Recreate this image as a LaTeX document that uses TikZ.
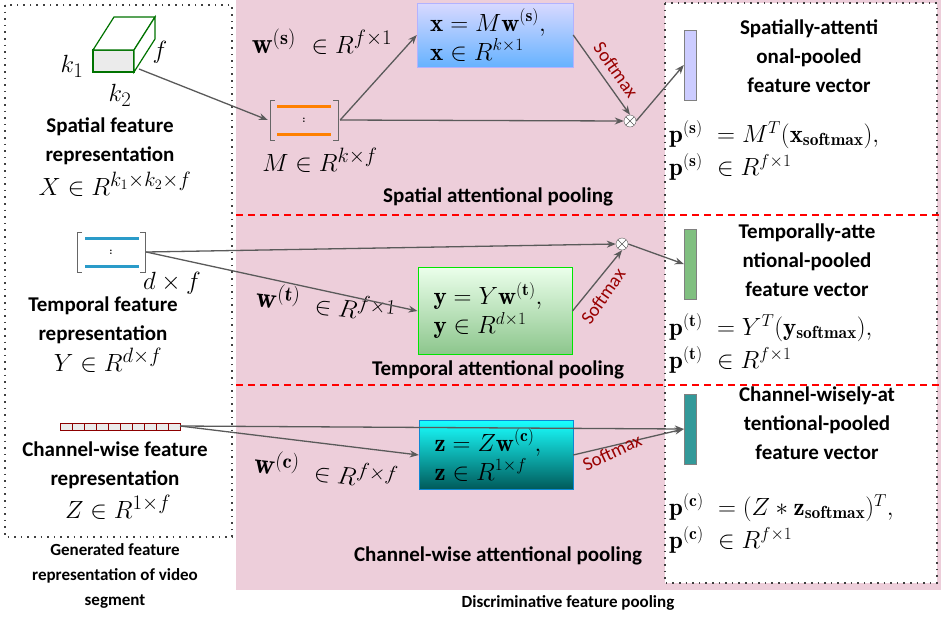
\documentclass[tikz,border=0pt]{standalone}
\usepackage{fontspec}
\usepackage{amsmath}
\newfontfamily\carl{Carlito}
\usetikzlibrary{arrows.meta}
\definecolor{pinkbg}{RGB}{237,206,218}
\definecolor{arr}{RGB}{90,90,90}
\begin{document}
\begin{tikzpicture}[x=1pt,y=-1pt,
 lbl/.style={font=\carl\bfseries\fontsize{21}{29}\selectfont,align=center},
 mth/.style={font=\fontsize{29}{31}\selectfont,align=left,inner sep=1pt},
 con/.style={draw=arr,line width=1.3pt,-{Stealth[length=9pt,width=7pt]}},
 sm/.style={font=\carl\fontsize{19}{20}\selectfont,text=red!60!black},
 dot/.style={draw=black!75,line width=1.6pt,dash pattern=on 1.6pt off 5pt},
 brk/.style={draw=black!60,line width=1pt},
 otim/.style={circle,draw=arr,fill=white,inner sep=0pt,minimum size=12pt,
   path picture={\draw[arr,line width=0.6pt] (path picture bounding box.north west)--(path picture bounding box.south east) (path picture bounding box.north east)--(path picture bounding box.south west);}}]
\useasboundingbox (0,0) rectangle (941,616);
\fill[pinkbg] (236,0) rectangle (941,590);
\fill[white] (665,3) rectangle (937,583);
\draw[dot] (5,5) rectangle (232,537);
\draw[dot] (665,3) rectangle (937,583);
\draw[red,line width=1.2pt,dash pattern=on 7pt off 5pt] (236,215)--(941,215) (236,385)--(941,385);
% cube
\draw[green!45!black,line width=1.2pt,fill=black!8] (93,50) rectangle (134,72);
\draw[green!45!black,line width=1.2pt,fill=white] (93,50)--(114,17)--(155,17)--(134,50)--cycle;
\draw[green!45!black,line width=1.2pt,fill=white] (134,50)--(155,17)--(155,39)--(134,72)--cycle;
\node[mth] at (72,66) {$k_1$};
\node[mth] at (120,95) {$k_2$};
\node[mth] at (160,52) {$f$};
\coordinate (cube) at (139,69);
\node[lbl] (sp) at (110,141) {Spatial feature\\representation};
\node[mth] (X) at (115,184) {$X\in R^{k_1\times k_2\times f}$};
% M bracket
\node[minimum width=72pt,minimum height=40pt] (M) at (304,120) {};
\draw[brk] (275,100)--(270,100)--(270,140)--(275,140) (333,100)--(338,100)--(338,140)--(333,140);
\draw[orange,line width=3pt] (277,106)--(331,106) (277,134)--(331,134);
\node[font=\bfseries] at (304,120) {:};
\node[mth] (Mlab) at (320,160) {$M\in R^{k\times f}$};
\node[mth] (ws) at (322,42) {$\mathbf{w^{(s)}}\ \in R^{f\times 1}$};
% blue box
\node[draw=blue!30,top color=blue!15,bottom color=blue!50!cyan!60,minimum width=156pt,minimum height=64pt] (bx) at (495,35) {};
\node[mth,font=\fontsize{25}{29}\selectfont] at (488,35) {$\mathbf{x}=M\mathbf{w^{(s)}},$\\$\mathbf{x}\in R^{k\times 1}$};
\node[otim] (o1) at (630,121) {};
\node[lbl] at (498,197) {Spatial attentional pooling};
% temporal
\node[minimum width=70pt,minimum height=40pt] (T) at (111,252) {};
\draw[brk] (82,232)--(77,232)--(77,272)--(82,272) (140,232)--(145,232)--(145,272)--(140,272);
\draw[cyan!60!teal,line width=3pt] (85,238)--(139,238) (85,266)--(139,266);
\node[font=\bfseries] at (111,252) {:};
\node[mth] at (172,283) {$d\times f$};
\node[lbl] at (103,320) {Temporal feature\\representation};
\node[mth] at (108,360) {$Y\in R^{d\times f}$};
\node[mth,rotate=-7] at (326,303) {$\mathbf{w^{(t)}}\ \in R^{f\times 1}$};
\node[draw=green!90!black,line width=1pt,top color=green!8!white,bottom color=green!50!black!45,minimum width=154pt,minimum height=87pt] (gx) at (495,311) {};
\node[mth,font=\fontsize{25}{29}\selectfont] at (488,311) {$\mathbf{y}=Y\mathbf{w^{(t)}},$\\$\mathbf{y}\in R^{d\times 1}$};
\node[otim] (o2) at (622,244) {};
\node[lbl] at (498,370) {Temporal attentional pooling};
% channel
\foreach \i in {0,...,9} \draw[red!55!black,fill=black!8,line width=0.8pt] (60+\i*12,423) rectangle (72+\i*12,430);
\coordinate (ch) at (180,426);
\node[lbl] at (115,465) {Channel-wise feature\\representation};
\node[mth] at (118,507) {$Z\in R^{1\times f}$};
\node[mth,rotate=-7] at (326,470) {$\mathbf{w^{(c)}}\ \in R^{f\times f}$};
\node[draw=cyan!70!blue,top color=cyan!90!white,bottom color=teal!70!black,minimum width=154pt,minimum height=69pt] (tx) at (496,455) {};
\node[mth,font=\fontsize{25}{29}\selectfont] at (488,455) {$\mathbf{z}=Z\mathbf{w^{(c)}},$\\$\mathbf{z}\in R^{1\times f}$};
\node[lbl] at (498,556) {Channel-wise attentional pooling};
\node[lbl,font=\carl\bfseries\fontsize{17}{25}\selectfont] at (115,576) {Generated feature\\representation of video\\segment};
\node[lbl,font=\carl\bfseries\fontsize{17}{20}\selectfont] at (568,603) {Discriminative feature pooling};
% bars
\node[draw=black!50,fill=blue!20,minimum width=12pt,minimum height=70pt,inner sep=0] (b1) at (690,65) {};
\node[draw=black!50,fill=green!50!black!50,minimum width=12pt,minimum height=70pt,inner sep=0] (b2) at (690,264) {};
\node[draw=black!50,fill=teal!80,minimum width=12pt,minimum height=70pt,inner sep=0] (b3) at (690,429) {};
\node[lbl] at (809,56) {Spatially-attenti\\onal-pooled\\feature vector};
\node[lbl] at (807,260) {Temporally-atte\\ntional-pooled\\feature vector};
\node[lbl] at (817,423) {Channel-wisely-at\\tentional-pooled\\feature vector};
\node[mth,anchor=west,font=\fontsize{25}{33}\selectfont] at (668,150) {$\mathbf{p^{(s)}}\ =M^T(\mathbf{x_{softmax}}),$\\$\mathbf{p^{(s)}}\ \in R^{f\times 1}$};
\node[mth,anchor=west,font=\fontsize{25}{33}\selectfont] at (668,343) {$\mathbf{p^{(t)}}\ =Y^T(\mathbf{y_{softmax}}),$\\$\mathbf{p^{(t)}}\ \in R^{f\times 1}$};
\node[mth,anchor=west,font=\fontsize{25}{33}\selectfont] at (668,523) {$\mathbf{p^{(c)}}\ =(Z*\mathbf{z_{softmax}})^T,$\\$\mathbf{p^{(c)}}\ \in R^{f\times 1}$};
% connectors
\draw[con] (cube) -- (M.west);
\draw[con] (M.east) -- (bx.west);
\draw[con] (M.east) -- (o1.west);
\draw[con] (bx.east) -- (o1.north);
\draw[con] (o1.east) -- (b1.west);
\draw[con] (T.east) -- (o2.west);
\draw[con] (T.east) -- (gx.west);
\draw[con] (gx.east) -- (o2.south);
\draw[con] (o2.east) -- (b2.west);
\draw[con] (ch) -- (b3.west);
\draw[con] (ch) -- (tx.west);
\draw[con] (tx.east) -- (b3.west);
\node[sm,rotate=-55] at (616,70) {Softmax};
\node[sm,rotate=55] at (603,296) {Softmax};
\node[sm,rotate=25] at (612,452) {Softmax};
\end{tikzpicture}
\end{document}
